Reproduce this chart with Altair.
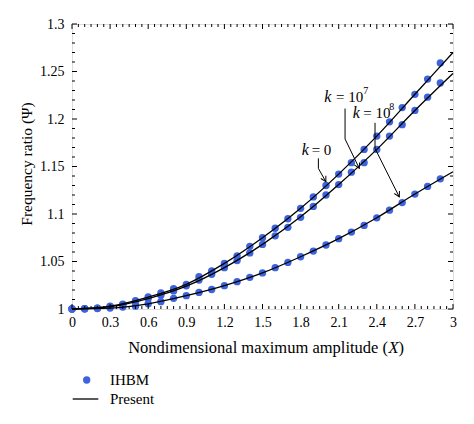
import altair as alt
import pandas as pd
import numpy as np

# IHBM results (dots), sampled every 0.1 in X
x_ihbm = [0.0, 0.1, 0.2, 0.3, 0.4, 0.5, 0.6, 0.7, 0.8, 0.9,
          1.0, 1.1, 1.2, 1.3, 1.4, 1.5, 1.6, 1.7, 1.8, 1.9,
          2.0, 2.1, 2.2, 2.3, 2.4, 2.5, 2.6, 2.7, 2.8, 2.9]
ihbm_k0 = [1.000, 1.0003, 1.001, 1.003, 1.005, 1.0088, 1.0126, 1.0168, 1.0215, 1.026,
           1.034, 1.040, 1.048, 1.056, 1.066, 1.075, 1.085, 1.095, 1.106, 1.118,
           1.130, 1.142, 1.154, 1.168, 1.182, 1.197, 1.212, 1.226, 1.242, 1.259]
ihbm_k1e7 = [1.000, 1.0003, 1.001, 1.0025, 1.0045, 1.0075, 1.011, 1.0145, 1.019, 1.0245,
             1.0305, 1.0365, 1.0435, 1.051, 1.059, 1.068, 1.077, 1.086, 1.0965, 1.108,
             1.120, 1.131, 1.144, 1.154, 1.168, 1.182, 1.194, 1.209, 1.223, 1.238]
ihbm_k1e8 = [1.000, 1.0002, 1.0005, 1.001, 1.002, 1.003, 1.0055, 1.0077, 1.0112, 1.014,
             1.0175, 1.0205, 1.0246, 1.0288, 1.0333, 1.038, 1.0435, 1.049, 1.055, 1.061,
             1.0674, 1.074, 1.081, 1.088, 1.096, 1.104, 1.112, 1.121, 1.129, 1.137]

# Present solution (solid curves)
x_present = [0.0, 0.3, 0.6, 0.9, 1.2, 1.5, 1.8, 2.1, 2.4, 2.7, 3.0]
present_k0 = [1.000, 1.003, 1.0125, 1.026, 1.048, 1.075, 1.106, 1.142, 1.182, 1.226, 1.270]
present_k1e7 = [1.000, 1.0025, 1.011, 1.024, 1.0435, 1.068, 1.097, 1.131, 1.168, 1.209, 1.248]
present_k1e8 = [1.000, 1.001, 1.0055, 1.014, 1.0246, 1.038, 1.055, 1.074, 1.096, 1.121, 1.1445]

x_ticks = [0.0, 0.3, 0.6, 0.9, 1.2, 1.5, 1.8, 2.1, 2.4, 2.7, 3.0]
y_ticks = [1.0, 1.05, 1.1, 1.15, 1.2, 1.25, 1.3]
x_minor = [float(v) for v in np.round(np.arange(0, 3.0001, 0.05), 2) if round(v / 0.3, 6) % 1 != 0]
y_minor = [float(v) for v in np.round(np.arange(1.0, 1.3001, 0.01), 2) if round((v - 1) / 0.05, 6) % 1 != 0]

W, H = 381, 285
FONT = "Liberation Serif"
BLUE = "#3d64dc"

xs = alt.Scale(domain=[0, 3], nice=False, zero=False)
ys = alt.Scale(domain=[1, 1.3], nice=False, zero=False)

dots = pd.DataFrame({
    "x": x_ihbm * 3,
    "psi": ihbm_k0 + ihbm_k1e7 + ihbm_k1e8,
    "k": ["0"] * 30 + ["1e7"] * 30 + ["1e8"] * 30,
})
curves = pd.DataFrame({
    "x": x_present * 3,
    "psi": present_k0 + present_k1e7 + present_k1e8,
    "k": ["0"] * 11 + ["1e7"] * 11 + ["1e8"] * 11,
})

points = alt.Chart(dots).mark_circle(size=54, color=BLUE, opacity=1).encode(
    x=alt.X("x:Q", scale=xs, axis=alt.Axis(
        values=x_ticks, format=".1~f", ticks=False, domain=False, grid=False,
        title=None, labelFont=FONT, labelFontSize=14, labelColor="black",
        labelPadding=6, labelFlush=False)),
    y=alt.Y("psi:Q", scale=ys, axis=alt.Axis(
        values=y_ticks, format=".2~f", ticks=False, domain=False, grid=False,
        title=None, labelFont=FONT, labelFontSize=14, labelColor="black", labelPadding=8)),
)

lines = alt.Chart(curves).mark_line(color="black", strokeWidth=1.3, interpolate="monotone").encode(
    x=alt.X("x:Q", scale=xs, axis=None),
    y=alt.Y("psi:Q", scale=ys, axis=None),
    detail="k:N",
)


def xticks(vals, length, side):
    df = pd.DataFrame({"v": vals})
    y0, y1 = (H, H - length) if side == "bottom" else (0, length)
    return alt.Chart(df).mark_rule(color="black", strokeWidth=1).encode(
        x=alt.X("v:Q", scale=xs, axis=None), y=alt.value(y0), y2=alt.value(y1))


def yticks(vals, length, side):
    df = pd.DataFrame({"v": vals})
    x0, x1 = (0, length) if side == "left" else (W, W - length)
    return alt.Chart(df).mark_rule(color="black", strokeWidth=1).encode(
        y=alt.Y("v:Q", scale=ys, axis=None), x=alt.value(x0), x2=alt.value(x1))


tick_layers = [
    xticks(x_ticks, 5, "bottom"), xticks(x_minor, 3, "bottom"),
    xticks(x_ticks, 5, "top"), xticks(x_minor, 3, "top"),
    yticks(y_ticks, 5, "left"), yticks(y_minor, 3, "left"),
    yticks(y_ticks, 5, "right"), yticks(y_minor, 3, "right"),
]

# Curve labels: italic k, the rest upright, exponents raised
lab_k = pd.DataFrame({"x": [1.809, 1.987, 2.210], "y": [1.1674, 1.2228, 1.2060], "t": ["k", "k", "k"]})
lab_eq = pd.DataFrame({"x": [1.887, 2.079, 2.294], "y": [1.1674, 1.2228, 1.2060], "t": ["= 0", "= 10", "= 10"]})
lab_sup = pd.DataFrame({"x": [2.294, 2.498], "y": [1.2290, 1.2125], "t": ["7", "8"]})


def text_layer(df, size, style="normal"):
    return alt.Chart(df).mark_text(
        font=FONT, fontSize=size, fontStyle=style, align="left", baseline="middle", color="black"
    ).encode(x=alt.X("x:Q", scale=xs, axis=None), y=alt.Y("y:Q", scale=ys, axis=None), text="t:N")


label_layers = [text_layer(lab_k, 16, "italic"), text_layer(lab_eq, 15), text_layer(lab_sup, 10)]

# Leader arrows to each curve
arrows = pd.DataFrame({
    "x": [1.94, 1.94, 1.999, 2.15, 2.15, 2.262, 2.386, 2.386, 2.577],
    "y": [1.1586, 1.148, 1.134, 1.211, 1.179, 1.148, 1.196, 1.169, 1.118],
    "a": ["a0"] * 3 + ["a7"] * 3 + ["a8"] * 3,
    "o": [0, 1, 2] * 3,
})
arrow_lines = alt.Chart(arrows).mark_line(color="black", strokeWidth=1).encode(
    x=alt.X("x:Q", scale=xs, axis=None), y=alt.Y("y:Q", scale=ys, axis=None),
    detail="a:N", order="o:Q")
heads = pd.DataFrame({"x": [1.999, 2.262, 2.577], "y": [1.134, 1.148, 1.118], "ang": [331, 334, 333]})
arrow_heads = alt.Chart(heads).mark_point(
    shape="M-0.55,-1L0,0L0.55,-1", size=110, filled=False, color="black", strokeWidth=1, opacity=1
).encode(x=alt.X("x:Q", scale=xs, axis=None), y=alt.Y("y:Q", scale=ys, axis=None),
         angle=alt.Angle("ang:Q", scale=None))


def fixed_text(t, x, y, size, align="left", style="normal", angle=0):
    return alt.Chart(pd.DataFrame({"t": [t]})).mark_text(
        font=FONT, fontSize=size, fontStyle=style, align=align, baseline="middle",
        color="black", angle=angle
    ).encode(x=alt.value(x), y=alt.value(y), text="t:N")


# Axis titles (x title has an italic X)
xt_main = fixed_text("Nondimensional maximum amplitude (", 316, 324, 16.5, align="right")
xt_var = fixed_text("X", 316.5, 324, 16.5, style="italic")
xt_close = fixed_text(")", 326.5, 324, 16.5)
yt = fixed_text("Frequency ratio (Ψ)", -45, 140, 15.5, align="center", angle=270)

# Legend below the plot
leg_dot = alt.Chart(pd.DataFrame({"t": ["IHBM"]})).mark_circle(size=54, color=BLUE, opacity=1).encode(
    x=alt.value(14.7), y=alt.value(356))
leg_line = alt.Chart(pd.DataFrame({"t": ["Present"]})).mark_rule(color="black", strokeWidth=1.3).encode(
    x=alt.value(0.7), x2=alt.value(26.3), y=alt.value(375))
leg_text1 = fixed_text("IHBM", 38, 356, 15)
leg_text2 = fixed_text("Present", 38, 375, 15)

chart = alt.layer(
    points, lines, *tick_layers, arrow_lines, arrow_heads, *label_layers,
    xt_main, xt_var, xt_close, yt, leg_dot, leg_line, leg_text1, leg_text2,
).resolve_axis(x="independent", y="independent").properties(
    width=W, height=H,
    autosize=alt.AutoSizeParams(type="none"),
    padding={"left": 72, "top": 24, "right": 21, "bottom": 115},
).configure_view(stroke="black", strokeWidth=1.2).configure(background="white")

chart.save("out.html", embed_options={"renderer": "svg", "actions": False})
